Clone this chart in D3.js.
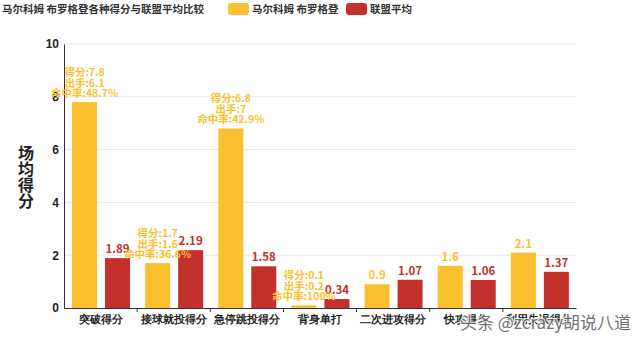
<!DOCTYPE html>
<html><head><meta charset="utf-8">
<script src="https://cdn.jsdelivr.net/npm/d3@7"></script>
<style>body{margin:0;background:#fff}svg{display:block;font-family:"Noto Sans CJK SC","Noto Sans",sans-serif}</style>
</head><body><svg id="c" width="640" height="340"></svg>
<script>
const categories = ["突破得分","接球就投得分","急停跳投得分","背身单打","二次进攻得分","快攻得分","利用失误得分"];
const playerScores = [7.8, 1.7, 6.8, 0.1, 0.9, 1.6, 2.1];
const playerAttempts = [6.1, 1.6, 7, 0.2, null, null, null];
const playerPct = ["48.7%", "36.6%", "42.9%", "100%", null, null, null];
const leagueAvg = [1.89, 2.19, 1.58, 0.34, 1.07, 1.06, 1.37];
const yTicks = [0, 2, 4, 6, 8, 10];
const seriesNames = ["马尔科姆 布罗格登", "联盟平均"];
const colors = ["#FBC02F", "#C4302C"];

const svg = d3.select("#c");
const L = 64, R = 576, T = 44, B = 308;
const x = d3.scaleBand().domain(categories).range([L, R]);
const y = d3.scaleLinear().domain([0, 10]).range([B, T]);
const bw = 25, pad = 8, gap = 8;

// grid
svg.append("g").selectAll("line").data(yTicks.filter(d => d > 0)).join("line")
  .attr("x1", L).attr("x2", R).attr("y1", d => y(d)).attr("y2", d => y(d))
  .attr("stroke", "#e6e6e6").attr("stroke-width", 1);

// y axis
const ya = svg.append("g").attr("transform", `translate(${L},0)`)
  .call(d3.axisLeft(y).tickValues(yTicks).tickSize(0).tickPadding(5).tickFormat(d3.format("d")));
ya.select(".domain").attr("stroke", "#333");
ya.selectAll("text").attr("font-size", 12).attr("font-weight", "bold").attr("fill", "#222");

// x axis
const xa = svg.append("g").attr("transform", `translate(0,${B})`)
  .call(d3.axisBottom(x).tickSize(0).tickPadding(8));
xa.select(".domain").attr("stroke", "#333");
xa.selectAll("text").attr("font-size", 10.5).attr("font-weight", "bold").attr("fill", "#222");
svg.append("g").selectAll("line").data(categories.slice(1)).join("line")
  .attr("x1", d => x(d)).attr("x2", d => x(d)).attr("y1", B).attr("y2", B + 4).attr("stroke", "#333");

// bars
svg.append("g").selectAll("rect").data(playerScores).join("rect")
  .attr("x", (d, i) => x(categories[i]) + pad).attr("width", bw)
  .attr("y", d => y(d)).attr("height", d => B - y(d)).attr("fill", colors[0]);
svg.append("g").selectAll("rect").data(leagueAvg).join("rect")
  .attr("x", (d, i) => x(categories[i]) + pad + bw + gap).attr("width", bw)
  .attr("y", d => y(d)).attr("height", d => B - y(d)).attr("fill", colors[1]);

// league labels
svg.append("g").selectAll("text").data(leagueAvg).join("text")
  .attr("x", (d, i) => x(categories[i]) + pad + bw + gap + bw / 2).attr("y", d => y(d) - 5)
  .attr("text-anchor", "middle").attr("font-size", 11.5).attr("font-weight", "bold")
  .attr("fill", colors[1]).text(d => d);

// player labels
const pl = svg.append("g");
playerScores.forEach((d, i) => {
  const cx = x(categories[i]) + pad + bw / 2;
  const multi = playerAttempts[i] != null;
  const lines = !multi ? [String(d)]
    : ["得分:" + d, "出手:" + playerAttempts[i], "命中率:" + playerPct[i]];
  lines.forEach((t, k) => {
    pl.append("text").attr("x", cx).attr("y", y(d) - 5 - (lines.length - 1 - k) * 10.5)
      .attr("text-anchor", "middle").attr("font-size", multi ? 10.5 : 11.5).attr("font-weight", "bold")
      .attr("fill", colors[0]).text(t);
  });
});

// title
svg.append("text").attr("x", 2).attr("y", 13).attr("font-size", 10.5).attr("font-weight", "bold")
  .attr("fill", "#333").text("马尔科姆 布罗格登各种得分与联盟平均比较");

// legend
const lg = svg.append("g");
[228, 346].forEach((lx, i) => {
  lg.append("rect").attr("x", lx).attr("y", 3).attr("width", 21).attr("height", 12).attr("rx", 3)
    .attr("fill", colors[i]);
  lg.append("text").attr("x", lx + 24).attr("y", 13).attr("font-size", 10.5).attr("font-weight", "bold")
    .attr("fill", "#333").text(seriesNames[i]);
});

// y title
const yt = svg.append("text").attr("font-size", 16).attr("font-weight", "bold").attr("fill", "#222")
  .attr("text-anchor", "middle");
"场均得分".split("").forEach((ch, k) => {
  yt.append("tspan").attr("x", 26).attr("y", 159 + k * 16).text(ch);
});

// watermark
svg.append("text").attr("x", 460).attr("y", 329).attr("font-size", 17)
  .attr("fill", "#666").attr("stroke", "#fff").attr("stroke-width", 2).attr("paint-order", "stroke")
  .attr("opacity", 0.9)
  .text("头条 @zcrazy胡说八道");
</script></body></html>
